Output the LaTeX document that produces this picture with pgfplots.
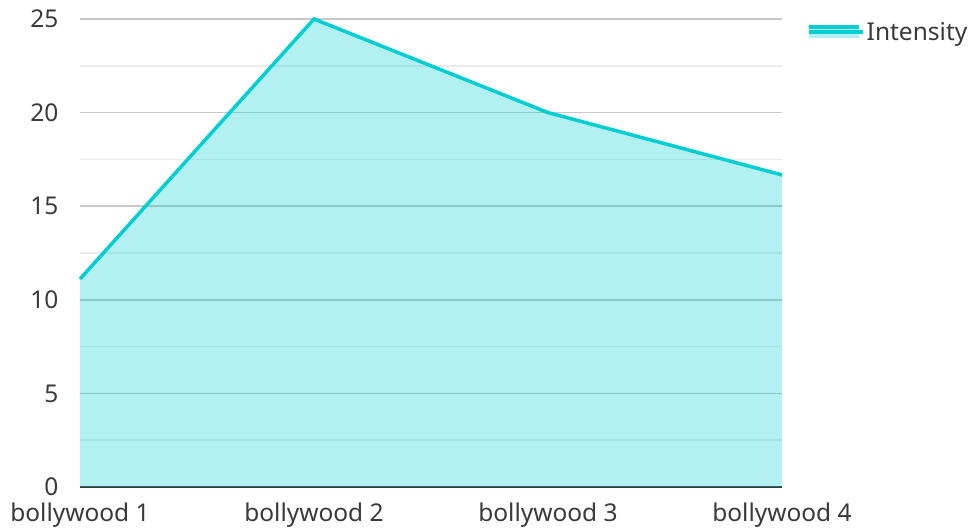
\documentclass[border=0pt]{standalone}
\usepackage{pgfplots}
\pgfplotsset{compat=1.18}
\usepackage{fontspec}
\setmainfont{Noto Sans}
\definecolor{turq}{HTML}{00CED1}
\definecolor{txt}{HTML}{3A3A3A}
\definecolor{majg}{HTML}{C8C8C8}
\definecolor{ming}{HTML}{EBEBEB}
\begin{document}
\begin{tikzpicture}[x=1pt,y=1pt]
\begin{axis}[
  scale only axis,
  width=702pt, height=468pt,
  xmin=0, xmax=3, ymin=0, ymax=25,
  xtick={0,1,2,3},
  xticklabels={bollywood 1,bollywood 2,bollywood 3,bollywood 4},
  ytick={0,5,10,15,20,25},
  minor ytick={2.5,7.5,12.5,17.5,22.5},
  ymajorgrids, yminorgrids,
  major grid style={majg, line width=1.5pt},
  minor grid style={ming, line width=1.5pt},
  axis x line*=bottom, axis y line*=left,
  x axis line style={txt, line width=2pt, -},
  y axis line style={draw=none},
  major tick length=0pt, minor tick length=0pt,
  tick style={draw=none},
  /pgf/number format/assume math mode=true,
  ticklabel style={font=\fontsize{24.5}{29}\selectfont, text=txt},
  yticklabel style={xshift=-18pt},
  xticklabel style={yshift=-12pt},
  legend style={at={(axis cs:3,25)}, anchor=north west, xshift=25pt, yshift=-1pt, draw=none, fill=none, font=\fontsize{24.5}{29}\selectfont, text=txt, inner sep=0pt, cells={anchor=west}},
  legend image code/.code={
    \path[fill=turq, fill opacity=0.3, draw=none] (0pt,-6pt) rectangle (50pt,5pt);
    \draw[turq, line width=3.5pt, fill=none] (0pt,5pt) -- (50pt,5pt);
    \path (0pt,0pt) -- (54pt,0pt);
  },
  clip=false,
]
\addplot[draw=none, fill=turq, fill opacity=0.3, forget plot] coordinates {(0,11.11) (1,25) (2,20) (3,16.67)} \closedcycle;
\addplot[turq, line width=3.5pt] coordinates {(0,11.11) (1,25) (2,20) (3,16.67)};
\addlegendentry{Intensity}
\end{axis}
\pgfresetboundingbox
\path (-80pt,-42pt) rectangle (892pt,487pt);
\end{tikzpicture}
\end{document}
